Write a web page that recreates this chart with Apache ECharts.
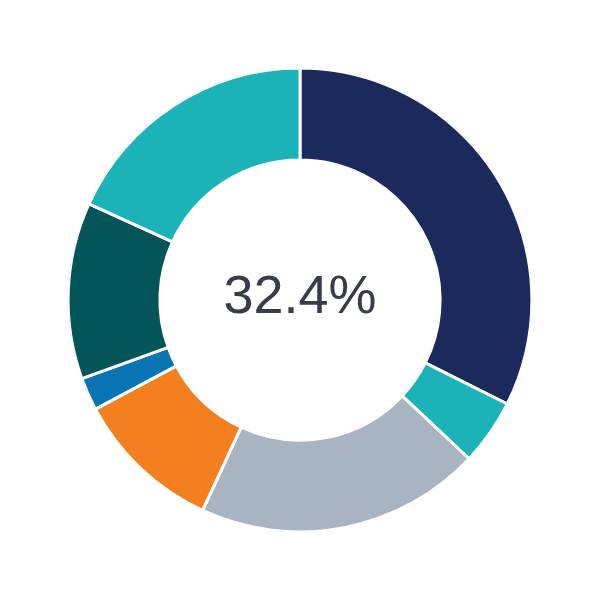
<!DOCTYPE html>
<html><head><meta charset="utf-8">
<script src="https://cdn.jsdelivr.net/npm/echarts@6/dist/echarts.min.js"></script>
<style>html,body{margin:0;padding:0;background:#fff}#c{width:600px;height:600px}</style>
</head><body><div id="c"></div>
<script>
const categories = ['A','B','C','D','E','F','G'];
const values = [32.4, 4.6, 19.9, 10.3, 2.3, 12.3, 18.2];
const colors = ['#1b2a5a','#1bb3b8','#a9b4c2','#f47f20','#0a75b5','#03555a','#1bb3b8'];
const centerLabel = '32.4%';
const chart = echarts.init(document.getElementById('c'));
chart.setOption({
  animation: false,
  graphic: [{type:'text', left:'center', top:271, style:{text:centerLabel, font:'54px "Liberation Sans", Arial, sans-serif', fill:'#373d47'}}],
  series: [{
    type: 'pie', radius: ['46.7%','77.3%'], center: ['50%','50%'],
    startAngle: 90, clockwise: true, label:{show:false}, labelLine:{show:false},
    emphasis:{disabled:true},
    itemStyle:{borderColor:'#fff', borderWidth:3},
    data: categories.map((c,i)=>({name:c, value:values[i], itemStyle:{color:colors[i]}}))
  }]
});
</script></body></html>
